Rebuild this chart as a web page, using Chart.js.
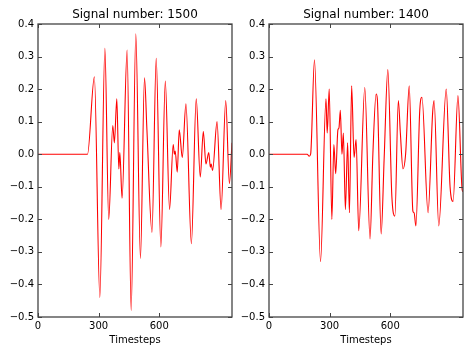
<!DOCTYPE html>
<html>
<head>
<meta charset="utf-8">
<script src="https://cdn.jsdelivr.net/npm/chart.js@4"></script>
<style>
  body { margin: 0; background: #fff; }
  .box { position: absolute; top: 0; width: 237px; height: 355px; }
  #b1 { left: 0; }
  #b2 { left: 237px; }
</style>
</head>
<body>
<div class="box" id="b1"><canvas id="c1"></canvas></div>
<div class="box" id="b2"><canvas id="c2"></canvas></div>
<script>
// tick labels
const xTicks = [0, 300, 600];
const yTicks = [-0.5, -0.4, -0.3, -0.2, -0.1, 0.0, 0.1, 0.2, 0.3, 0.4];

// signal 1500 (timestep, value)
const t1500 = [0, 245, 279, 306, 331, 350, 370, 378, 390, 400, 405, 416, 441, 461, 484, 507,
  527, 539, 564, 585, 608, 630, 651, 669, 675, 679, 689, 699, 714, 732, 759, 783, 803,
  818, 831, 845, 853, 857, 864, 886, 906, 929, 947, 960];
const v1500 = [0, 0, 0.238, -0.44, 0.325, -0.2, 0.088, 0.035, 0.17, -0.045, 0.005, -0.135, 0.32, -0.48, 0.37, -0.32,
  0.235, 0.075, -0.24, 0.295, -0.285, 0.225, -0.17, 0.03, 0.0, 0.01, -0.055, 0.075, -0.01, 0.155, -0.275, 0.17, -0.07,
  0.07, -0.03, 0.005, -0.04, -0.03, -0.05, 0.1, -0.17, 0.165, -0.09, 0.035];

// signal 1400
const t1400 = [0, 189, 199, 206, 225, 255, 282, 288, 298, 311, 321, 330, 341, 346, 353, 361, 368,
  378, 389, 398, 409, 421, 431, 444, 474, 500, 514, 530, 536, 555, 570, 588, 608, 623,
  640, 650, 663, 676, 694, 712, 718, 727, 746, 757, 787, 810, 817, 840, 877, 896, 911,
  935, 956, 960];
const v1400 = [0, 0, -0.006, 0, 0.29, -0.33, 0.17, 0.065, 0.2, -0.2, 0.03, -0.06, 0.075, 0.08, 0.135, 0.0, 0.065,
  -0.17, 0.035, -0.18, 0.21, -0.01, 0.045, -0.235, 0.205, -0.26, 0.0, 0.185, 0.17, -0.245, -0.01, 0.26, -0.13, -0.19,
  0.165, 0.065, -0.045, 0.0, 0.21, -0.175, -0.18, -0.22, 0.135, 0.175, -0.18, 0.13, 0.165, -0.22, 0.2, -0.1, -0.145,
  0.18, -0.11, -0.115];

const FONT = "'DejaVu Sans', sans-serif";
const FRAME = '#444';

// frame, inward tick marks and a title centred on the axes (matplotlib style)
const frameTicks = {
  id: 'frameTicks',
  afterDraw(chart, args, opts) {
    const { ctx, chartArea: a, scales } = chart;
    ctx.save();
    ctx.strokeStyle = FRAME;
    ctx.lineWidth = 1;
    ctx.beginPath();
    xTicks.forEach(v => {
      const px = Math.round(scales.x.getPixelForValue(v)) + 0.5;
      ctx.moveTo(px, a.top); ctx.lineTo(px, a.top + 4);
      ctx.moveTo(px, a.bottom); ctx.lineTo(px, a.bottom - 4);
    });
    yTicks.forEach(v => {
      const py = Math.round(scales.y.getPixelForValue(v)) + 0.5;
      ctx.moveTo(a.left, py); ctx.lineTo(a.left + 4, py);
      ctx.moveTo(a.right, py); ctx.lineTo(a.right - 4, py);
    });
    ctx.stroke();
    ctx.lineWidth = 1.3;
    ctx.strokeRect(a.left, a.top, a.right - a.left, a.bottom - a.top);

    ctx.fillStyle = '#000';
    ctx.font = '12px ' + FONT;
    ctx.textAlign = 'center';
    ctx.textBaseline = 'middle';
    ctx.fillText(opts.text, (a.left + a.right) / 2, 15);
    ctx.restore();
  }
};

function makeChart(id, title, ts, vs, yWidth, padRight) {
  const pts = ts.map((t, i) => ({ x: t, y: vs[i] }));
  return new Chart(document.getElementById(id), {
    type: 'line',
    data: {
      datasets: [{
        data: pts,
        borderColor: 'rgb(255, 0, 0)',
        borderWidth: 1.1,
        pointRadius: 0,
        cubicInterpolationMode: 'monotone',
        fill: false
      }]
    },
    options: {
      responsive: true,
      maintainAspectRatio: false,
      animation: false,
      events: [],
      layout: { padding: { left: 0, right: padRight, top: 24, bottom: 0 } },
      plugins: {
        legend: { display: false },
        tooltip: { enabled: false },
        title: { display: false },
        frameTicks: { text: title }
      },
      scales: {
        x: {
          type: 'linear',
          min: 0,
          max: 960,
          afterBuildTicks: s => { s.ticks = xTicks.map(v => ({ value: v })); },
          afterFit: s => { s.height = 38; },
          grid: { display: false, drawTicks: false },
          border: { display: false },
          ticks: { color: '#000', padding: 3, maxRotation: 0, font: { family: FONT, size: 10 } },
          title: {
            display: true,
            text: 'Timesteps',
            color: '#000',
            font: { family: FONT, size: 10 },
            padding: { top: 0, bottom: 9 }
          }
        },
        y: {
          min: -0.5,
          max: 0.4,
          afterBuildTicks: s => { s.ticks = yTicks.map(v => ({ value: v })); },
          afterFit: s => { s.width = yWidth; },
          grid: { display: false, drawTicks: false },
          border: { display: false },
          ticks: {
            color: '#000',
            padding: 4,
            font: { family: FONT, size: 10 },
            callback: v => v.toFixed(1).replace('-', '\u2212')
          }
        }
      }
    },
    plugins: [frameTicks]
  });
}

makeChart('c1', 'Signal number: 1500', t1500, v1500, 38, 5);
makeChart('c2', 'Signal number: 1400', t1400, v1400, 32, 11);
</script>
</body>
</html>
